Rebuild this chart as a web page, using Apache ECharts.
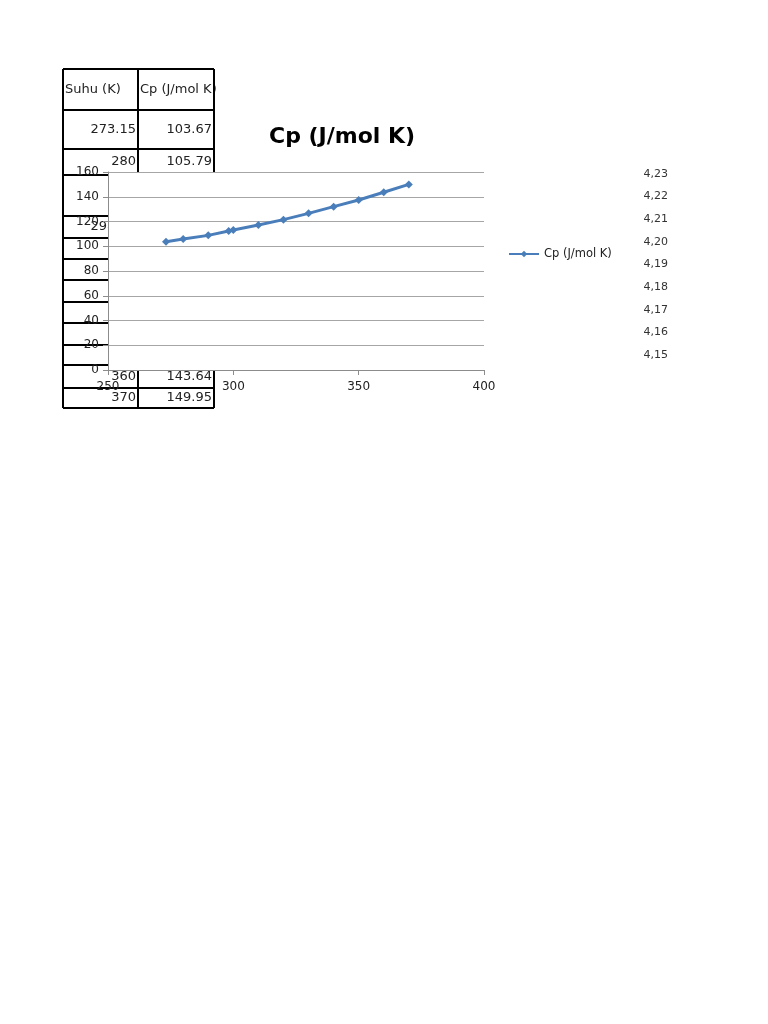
<!DOCTYPE html>
<html>
<head>
<meta charset="utf-8">
<script src="https://cdn.jsdelivr.net/npm/echarts@6/dist/echarts.min.js"></script>
<style>
html,body{margin:0;padding:0;background:#fff;}
#chart{width:768px;height:1024px;}
</style>
</head>
<body>
<div id="chart"></div>
<script>
// ---- data ----
var tableHeaders = ['Suhu (K)', 'Cp (J/mol K)'];
var suhu = [273.15, 280, 290, 298.15, 300, 310, 320, 330, 340, 350, 360, 370];
var cp = [103.67, 105.79, 108.8, 112.3, 113.1, 117.2, 121.5, 126.6, 132.0, 137.4, 143.64, 149.95];
var seriesName = 'Cp (J/mol K)';
var chartTitle = 'Cp (J/mol K)';
var rightTicks = ['4,15', '4,16', '4,17', '4,18', '4,19', '4,20', '4,21', '4,22', '4,23'];

// ---- layout of background table ----
var colX = [63, 138, 214];
var rowY = [69, 110, 149, 175, 216, 238, 259, 280, 302, 323, 345, 365, 388, 408];
var FONT = 'DejaVu Sans';

var graphics = [];
function addText(txt, x, y, align) {
  graphics.push({
    type: 'text', z: -5, silent: true,
    style: { text: txt, x: x, y: y, align: align, verticalAlign: 'middle',
      font: '13px "' + FONT + '"', fill: '#222' }
  });
}
addText(tableHeaders[0], colX[0] + 2, (rowY[0] + rowY[1]) / 2, 'left');
addText(tableHeaders[1], colX[1] + 2, (rowY[0] + rowY[1]) / 2, 'left');
for (var i = 0; i < suhu.length; i++) {
  var cy = (rowY[i + 1] + rowY[i + 2]) / 2;
  addText(String(suhu[i]), colX[1] - 2, cy, 'right');
  addText(cp[i].toFixed(2), colX[2] - 2, cy, 'right');
}
for (var r = 0; r < rowY.length; r++) {
  graphics.push({ type: 'line', z: -4, silent: true,
    shape: { x1: colX[0], y1: rowY[r], x2: colX[2], y2: rowY[r] },
    style: { stroke: '#000', lineWidth: 2 } });
}
for (var c = 0; c < colX.length; c++) {
  graphics.push({ type: 'line', z: -4, silent: true,
    shape: { x1: colX[c], y1: rowY[0], x2: colX[c], y2: rowY[rowY.length - 1] },
    style: { stroke: '#000', lineWidth: 2 } });
}

var data = suhu.map(function (s, i) { return [s, cp[i]]; });

var chart = echarts.init(document.getElementById('chart'));
chart.setOption({
  animation: false,
  backgroundColor: 'transparent',
  textStyle: { fontFamily: FONT },
  title: {
    text: chartTitle, left: 269, top: 126, padding: 0,
    textStyle: { fontFamily: FONT, fontSize: 22, fontWeight: 'bold', color: '#000' }
  },
  legend: {
    data: [seriesName], left: 508, top: 248, padding: 0,
    itemWidth: 30, itemHeight: 8,
    textStyle: { fontFamily: FONT, fontSize: 11.5, color: '#222' }
  },
  graphic: graphics,
  grid: [
    { left: 108, right: 284, top: 172, bottom: 654, outerBoundsMode: 'none',
      show: true, backgroundColor: '#fff', borderWidth: 0 },
    { left: 668, width: 10, top: 174, height: 181, outerBoundsMode: 'none' }
  ],
  xAxis: [
    { type: 'value', gridIndex: 0, min: 250, max: 400, interval: 50,
      axisLine: { show: true, lineStyle: { color: '#8c8c8c', width: 1 } },
      axisTick: { show: true, length: 5, lineStyle: { color: '#8c8c8c' } },
      axisLabel: { fontFamily: FONT, fontSize: 12, color: '#222', margin: 11 },
      splitLine: { show: false } },
    { type: 'value', gridIndex: 1, show: false }
  ],
  yAxis: [
    { type: 'value', gridIndex: 0, min: 0, max: 160, interval: 20,
      axisLine: { show: true, lineStyle: { color: '#8c8c8c', width: 1 } },
      axisTick: { show: true, length: 5, lineStyle: { color: '#8c8c8c' } },
      axisLabel: { fontFamily: FONT, fontSize: 12, color: '#222', margin: 9 },
      splitLine: { show: true, lineStyle: { color: '#a6a6a6', width: 1 } } },
    { type: 'category', gridIndex: 1, data: rightTicks, boundaryGap: false,
      axisLine: { show: false }, axisTick: { show: false }, splitLine: { show: false },
      axisLabel: { fontFamily: FONT, fontSize: 11, color: '#333', margin: 0, interval: 0 } }
  ],
  series: [
    { name: seriesName, type: 'line', xAxisIndex: 0, yAxisIndex: 0, data: data,
      symbol: 'diamond', symbolSize: 8, showSymbol: true,
      lineStyle: { color: '#4a7ebb', width: 3 },
      itemStyle: { color: '#4a7ebb' } },
    { name: 'ticks', type: 'line', xAxisIndex: 1, yAxisIndex: 1, data: [] }
  ]
});
</script>
</body>
</html>
